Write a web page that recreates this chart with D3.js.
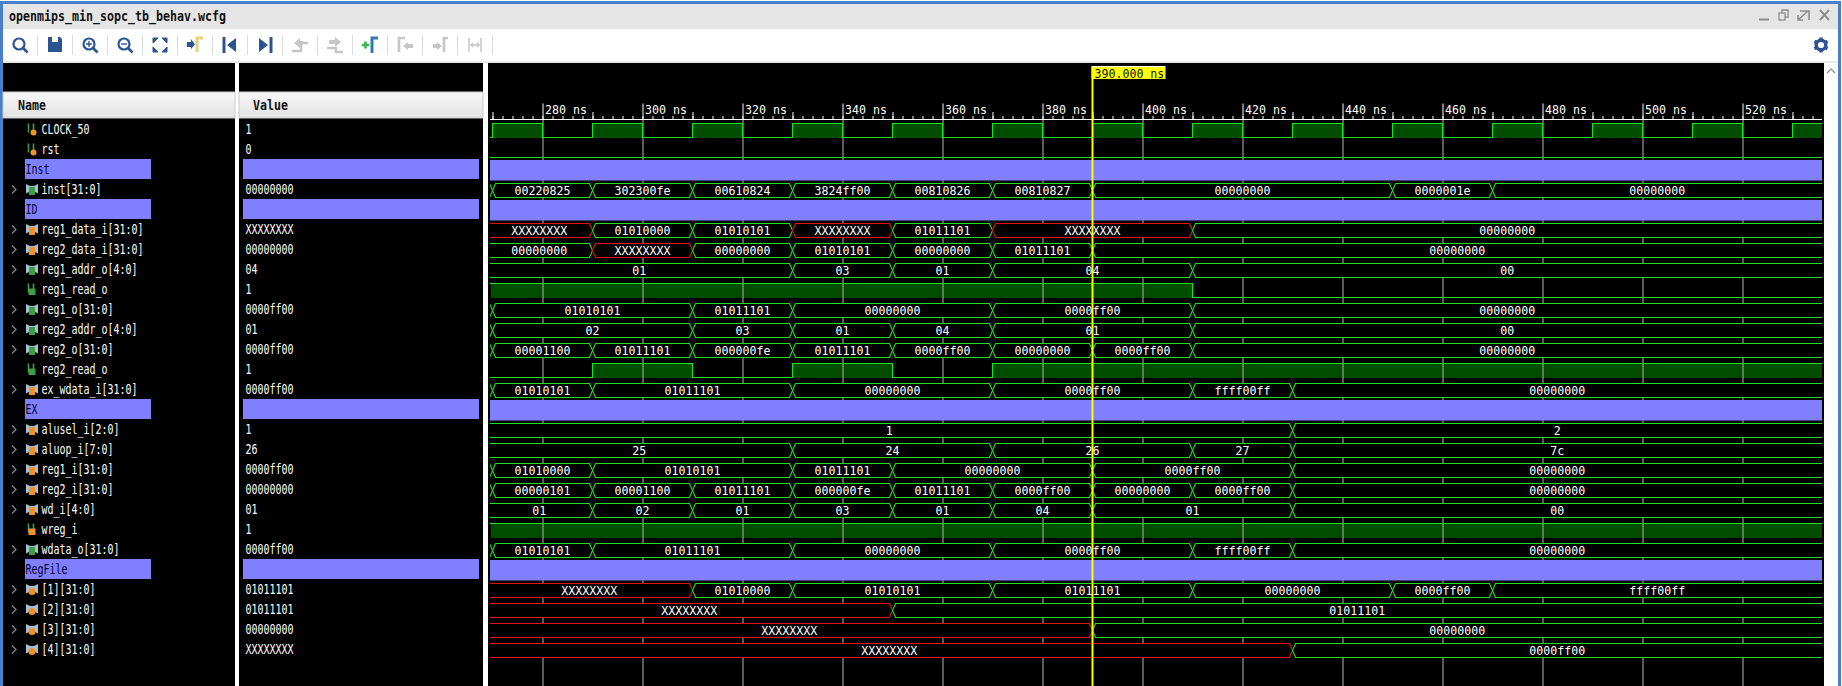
<![CDATA[<!DOCTYPE html>
<html><head><meta charset="utf-8">
<script src="https://cdn.jsdelivr.net/npm/d3@7/dist/d3.min.js"></script>
<style>
html,body{margin:0;padding:0;background:#fff;overflow:hidden}
svg{display:block}
text{font-family:"DejaVu Sans Mono",monospace;white-space:pre}
</style></head><body><svg id="c" width="1842" height="686"></svg>
<script>
// ---------- data ----------
const fileTitle = "openmips_min_sopc_tb_behav.wcfg";
const cursorTime = 390, cursorLabel = "390.000 ns";
const timeStart = 269.5, timeEnd = 535.9;
const majorTicks = [280,300,320,340,360,380,400,420,440,460,480,500,520];
const midTicks = [270,290,310,330,350,370,390,410,430,450,470,490,510,530];
const minorTicks = d3.range(270,536,2);

const rowNames = ["CLOCK_50","rst","Inst","inst[31:0]","ID","reg1_data_i[31:0]","reg2_data_i[31:0]","reg1_addr_o[4:0]","reg1_read_o","reg1_o[31:0]","reg2_addr_o[4:0]","reg2_o[31:0]","reg2_read_o","ex_wdata_i[31:0]","EX","alusel_i[2:0]","aluop_i[7:0]","reg1_i[31:0]","reg2_i[31:0]","wd_i[4:0]","wreg_i","wdata_o[31:0]","RegFile","[1][31:0]","[2][31:0]","[3][31:0]","[4][31:0]"];
const rowValues = ["1","0","","00000000","","XXXXXXXX","00000000","04","1","0000ff00","01","0000ff00","1","0000ff00","","1","26","0000ff00","00000000","01","1","0000ff00","","01011101","01011101","00000000","XXXXXXXX"];
const rowKinds = ["bit","bit","band","bus","band","bus","bus","bus","bit","bus","bus","bus","bit","bus","band","bus","bus","bus","bus","bus","bit","bus","band","bus","bus","bus","bus"];
const rowIcons = ["clk","clk","","out","","in","in","out","outbit","out","out","out","outbit","in","","in","in","in","in","in","inbit","out","","reg","reg","reg","reg"];

const X = "XXXXXXXX";
const clockT = [269.5,270,280,290,300,310,320,330,340,350,360,370,380,390,400,410,420,430,440,450,460,470,480,490,500,510,520,530];
const clockV = [0,1,0,1,0,1,0,1,0,1,0,1,0,1,0,1,0,1,0,1,0,1,0,1,0,1,0,1];
const rstT = [269.5]; const rstV = [0];
const instT = [270,290,310,330,350,370,390,450,470];
const instV = ["00220825","302300fe","00610824","3824ff00","00810826","00810827","00000000","0000001e","00000000"];
const reg1DataT = [269.5,290,310,330,350,370,410];
const reg1DataV = [X,"01010000","01010101",X,"01011101",X,"00000000"];
const reg2DataT = [269.5,290,310,330,350,370,390];
const reg2DataV = ["00000000",X,"00000000","01010101","00000000","01011101","00000000"];
const reg1AddrT = [269.5,330,350,370,410];
const reg1AddrV = ["01","03","01","04","00"];
const reg1ReadT = [269.5,410]; const reg1ReadV = [1,0];
const reg1OT = [270,310,330,370,410];
const reg1OV = ["01010101","01011101","00000000","0000ff00","00000000"];
const reg2AddrT = [270,310,330,350,370,410];
const reg2AddrV = ["02","03","01","04","01","00"];
const reg2OT = [270,290,310,330,350,370,390,410];
const reg2OV = ["00001100","01011101","000000fe","01011101","0000ff00","00000000","0000ff00","00000000"];
const reg2ReadT = [269.5,290,310,330,350,370]; const reg2ReadV = [0,1,0,1,0,1];
const exWdataT = [270,290,330,370,410,430];
const exWdataV = ["01010101","01011101","00000000","0000ff00","ffff00ff","00000000"];
const aluselT = [269.5,430]; const aluselV = ["1","2"];
const aluopT = [269.5,330,370,410,430]; const aluopV = ["25","24","26","27","7c"];
const reg1IT = [270,290,330,350,390,430];
const reg1IV = ["01010000","01010101","01011101","00000000","0000ff00","00000000"];
const reg2IT = [270,290,310,330,350,370,390,410,430];
const reg2IV = ["00000101","00001100","01011101","000000fe","01011101","0000ff00","00000000","0000ff00","00000000"];
const wdIT = [269.5,290,310,330,350,370,390,430];
const wdIV = ["01","02","01","03","01","04","01","00"];
const wregT = [269.5]; const wregV = [1];
const wdataOT = [270,290,330,370,410,430];
const wdataOV = ["01010101","01011101","00000000","0000ff00","ffff00ff","00000000"];
const r1T = [269.5,310,330,370,410,450,470];
const r1V = [X,"01010000","01010101","01011101","00000000","0000ff00","ffff00ff"];
const r2T = [269.5,350]; const r2V = [X,"01011101"];
const r3T = [269.5,390]; const r3V = [X,"00000000"];
const r4T = [269.5,430]; const r4V = [X,"0000ff00"];
const signalTimes = [clockT,rstT,null,instT,null,reg1DataT,reg2DataT,reg1AddrT,reg1ReadT,reg1OT,reg2AddrT,reg2OT,reg2ReadT,exWdataT,null,aluselT,aluopT,reg1IT,reg2IT,wdIT,wregT,wdataOT,null,r1T,r2T,r3T,r4T];
const signalVals = [clockV,rstV,null,instV,null,reg1DataV,reg2DataV,reg1AddrV,reg1ReadV,reg1OV,reg2AddrV,reg2OV,reg2ReadV,exWdataV,null,aluselV,aluopV,reg1IV,reg2IV,wdIV,wregV,wdataOV,null,r1V,r2V,r3V,r4V];

// ---------- style ----------
const GREEN="#1fdf1f", RED="#e01414", FILL="#004d00", BAND="#8080ff", NAVY="#2d5492", GREY="#c6c6c6";
const svg=d3.select("#c");
const x=d3.scaleLinear().domain([280,520]).range([542.5,1742.5]);
const rowY=d3.scaleLinear().domain([0,1]).range([119.5,139.5]);
const W0=x(timeStart), W1=x(timeEnd);
const defs=svg.append("defs");
const g=defs.append("linearGradient").attr("id","hdr").attr("x1",0).attr("x2",0).attr("y1",0).attr("y2",1);
g.append("stop").attr("offset",0).attr("stop-color","#f8f8f8");
g.append("stop").attr("offset",1).attr("stop-color","#e2e2e2");
defs.append("clipPath").attr("id","wave").append("rect").attr("x",W0).attr("y",60).attr("width",W1-W0).attr("height",626);

const R=(p,a,b,w,h,f)=>p.append("rect").attr("x",a).attr("y",b).attr("width",w).attr("height",h).attr("fill",f);
const T=(p,a,b,s,o={})=>{const t=p.append("text").attr("x",a).attr("y",b).text(s)
  .attr("font-size",o.size||13.7).attr("fill",o.fill||"#fff").attr("font-weight",o.weight||"normal");
  if(o.cw) t.attr("textLength",s.length*o.cw).attr("lengthAdjust","spacingAndGlyphs");
  if(o.anchor) t.attr("text-anchor",o.anchor);
  return t;};

// ---------- window chrome ----------
R(svg,0,0,1842,686,"#fff");
R(svg,0,1,1841,3,"#4a7ec9");
R(svg,0,1,3,685,"#4a7ec9");
R(svg,1838,1,3,685,"#4a7ec9");
R(svg,3,4,1835,25,"#e5e5e5");
R(svg,3,61,1835,2,"#e8e8e8");
T(svg,9,20.5,fileTitle,{size:13.7,weight:"bold",fill:"#111",cw:7});
// window buttons
const wb=svg.append("g").attr("stroke","#8e8e8e").attr("fill","none").attr("stroke-width",1.3);
wb.append("line").attr("x1",1759).attr("x2",1769).attr("y1",19.5).attr("y2",19.5).attr("stroke-width",2);
wb.append("rect").attr("x",1779).attr("y",13).attr("width",6).attr("height",7);
wb.append("path").attr("d","M1782,13V10H1788V17H1785");
wb.append("path").attr("d","M1800,11H1809V20M1798,20L1808,11M1798,15V20H1803").attr("stroke-width",1.6);
wb.append("path").attr("d","M1820,10L1829,20M1829,10L1820,20").attr("stroke-width",2);
// toolbar
const seps=[37.5,72.5,107.5,142.5,177.5,212.5,247.5,282.5,317.5,352.5,387.5,422.5,457.5,492.5];
svg.append("g").selectAll("line").data(seps).join("line").attr("x1",d=>d).attr("x2",d=>d).attr("y1",35).attr("y2",55).attr("stroke","#dcdcdc");
const tb=svg.append("g");
const ic=(cx,draw)=>draw(tb.append("g").attr("transform",`translate(${cx},45)`));
const lens=(g,sym)=>{g.append("circle").attr("cx",-1).attr("cy",-1).attr("r",5.5).attr("fill","none").attr("stroke",NAVY).attr("stroke-width",2.2);
  g.append("line").attr("x1",3).attr("y1",3).attr("x2",7.5).attr("y2",7.5).attr("stroke",NAVY).attr("stroke-width",2.6);
  if(sym) g.append("path").attr("d",sym).attr("stroke",NAVY).attr("stroke-width",1.4).attr("fill","none");};
ic(20,g=>lens(g));
ic(55,g=>g.append("path").attr("d","M-7,-8H5L7,-6V7H-7ZM-3,-8V-3H3V-8Z").attr("fill",NAVY).attr("fill-rule","evenodd"));
ic(90,g=>lens(g,"M-4,-1H2M-1,-4V2"));
ic(125,g=>lens(g,"M-4,-1H2"));
ic(160,g=>g.append("path").attr("d","M-7,-7H-2L-7,-2ZM7,-7H2L7,-2ZM-7,7H-2L-7,2ZM7,7H2L7,2Z").attr("fill",NAVY).attr("stroke",NAVY));
ic(195,g=>{g.append("path").attr("d","M-8,-3H-4V-6L0,-0.5L-4,4V2H-8Z").attr("fill",NAVY);g.append("path").attr("d","M2,7V-7H8").attr("fill","none").attr("stroke","#e6d47c").attr("stroke-width",3);});
ic(230,g=>{g.append("path").attr("d","M-6,-8V8").attr("stroke",NAVY).attr("stroke-width",3);g.append("path").attr("d","M6,-7V7L-3,0Z").attr("fill",NAVY);});
ic(265,g=>{g.append("path").attr("d","M6,-8V8").attr("stroke",NAVY).attr("stroke-width",3);g.append("path").attr("d","M-6,-7V7L3,0Z").attr("fill",NAVY);});
ic(300,g=>{g.append("path").attr("d","M-8,6H1V-2H8").attr("fill","none").attr("stroke",GREY).attr("stroke-width",2.5);g.append("path").attr("d","M-6,-2L0,-7V-4H3V0H0V3Z").attr("fill",GREY);});
ic(335,g=>{g.append("path").attr("d","M-8,3H1V7H8").attr("fill","none").attr("stroke",GREY).attr("stroke-width",2.5);g.append("path").attr("d","M6,-3L0,-8V-5H-6V-1H0V2Z").attr("fill",GREY);});
ic(370,g=>{g.append("path").attr("d","M-8,0H-1M-4.5,-3.5V3.5").attr("stroke","#3db54a").attr("stroke-width",2.6);g.append("path").attr("d","M2,8V-7H8").attr("fill","none").attr("stroke","#2f7ab5").attr("stroke-width",3);});
ic(405,g=>{g.append("path").attr("d","M-6,7V-7H0").attr("fill","none").attr("stroke",GREY).attr("stroke-width",2.6);g.append("path").attr("d","M-2,1L3,-3V-1H8V3H3V5Z").attr("fill",GREY);});
ic(440,g=>{g.append("path").attr("d","M-7,-1H-3V-3L2,1L-3,5V3H-7Z").attr("fill",GREY);g.append("path").attr("d","M4,7V-7H8").attr("fill","none").attr("stroke",GREY).attr("stroke-width",2.6);});
ic(475,g=>g.append("path").attr("d","M-6,-7V7M6,-7V7M-4,0H4M-2,-2L-4,0L-2,2M2,-2L4,0L2,2").attr("fill","none").attr("stroke",GREY).attr("stroke-width",1.5));
// gear
const gear=svg.append("g").attr("transform","translate(1821,45)");
gear.append("circle").attr("r",4.8).attr("fill","none").attr("stroke",NAVY).attr("stroke-width",3.4);
gear.selectAll("rect").data(d3.range(0,360,60)).join("rect").attr("x",-1.7).attr("y",-7.5).attr("width",3.4).attr("height",3.4).attr("fill",NAVY).attr("transform",d=>`rotate(${d})`);
// scrollbar arrow
svg.append("path").attr("d","M1827,73L1831,69L1835,73").attr("fill","none").attr("stroke","#888").attr("stroke-width",1.2);

// ---------- panels ----------
R(svg,3,63,232,623,"#000");
R(svg,239,63,244,623,"#000");
R(svg,488,63,1336,623,"#000");
[[3,232,"Name",18],[239,244,"Value",253]].forEach(([a,w,s,tx])=>{
  R(svg,a,92,w,26,"url(#hdr)").attr("stroke","#c8c8c8").attr("stroke-width",1);
  T(svg,tx,110,s,{weight:"bold",fill:"#111",cw:7});
});

// ---------- name / value columns ----------
const iconLayer=svg.append("g");
function icon(i,kind){
  const cy=rowY(i)+10, g=iconLayer.append("g").attr("transform",`translate(32,${cy})`);
  const bus=kind==="in"||kind==="out"||kind==="reg";
  const col=(kind==="in"||kind==="inbit")?"#f0922b":(kind==="out"||kind==="outbit")?"#3f9e45":"#f0922b";
  if(bus){
    g.append("path").attr("d","M-6,-5.5L-2,-3.5H2L6,-5.5V4L2,2H-2L-6,4Z").attr("fill","#a5bfd4");
    if(kind==="reg") g.append("circle").attr("cy",2).attr("r",3.6).attr("fill",col);
    else g.append("rect").attr("x",-3).attr("y",-2.5).attr("width",6).attr("height",8).attr("fill",col);
  } else {
    g.append("path").attr("d","M-3.5,3V-6M1.5,3V-6").attr("stroke","#3f9e45").attr("stroke-width",1.6).attr("fill","none");
    if(kind==="clk") g.append("circle").attr("cx",1.5).attr("cy",3).attr("r",3).attr("fill","#f0922b");
    else g.append("rect").attr("x",-3.5).attr("y",-1).attr("width",7).attr("height",6.5).attr("fill",col);
  }
}
rowNames.forEach((n,i)=>{
  const y=rowY(i), kind=rowKinds[i];
  if(kind==="band"){
    R(svg,25,y-.5,126,20,BAND);
    R(svg,243,y-.5,236,20,BAND);
    T(svg,25.5,y+14.7,n,{fill:"#000030",cw:6});
  } else {
    T(svg,41.5,y+14.7,n,{cw:6});
    T(svg,245.5,y+14.7,rowValues[i],{cw:6});
    icon(i,rowIcons[i]);
    if(kind==="bus") svg.append("path").attr("d",`M12,${y+6}L16,${y+10}L12,${y+14}`).attr("fill","none").attr("stroke","#8a8a8a").attr("stroke-width",1.2);
  }
});

// ---------- waveforms ----------
const wave=svg.append("g").attr("clip-path","url(#wave)");
const fillL=wave.append("g"), gridL=wave.append("g"), busL=wave.append("g"), lineL=wave.append("g");
const segs=(T_,V_)=>T_.map((t,k)=>({t0:t,t1:k<T_.length-1?T_[k+1]:timeEnd,v:V_[k],first:k===0&&t===timeStart,start:k===0,last:k===T_.length-1}));

// grid via axis
gridL.append("g").attr("transform","translate(0,119.5)")
  .call(d3.axisBottom(x).tickValues(majorTicks).tickSize(567).tickFormat(""))
  .call(a=>a.select(".domain").remove())
  .call(a=>a.selectAll("text").remove())
  .call(a=>a.selectAll("line").attr("stroke","#b4b4b4"));

const line=d3.line();
rowNames.forEach((n,i)=>{
  const y=rowY(i), kind=rowKinds[i];
  const top=y+4, bot=y+18;
  if(kind==="band"){ R(busL,W0,y+.5,W1-W0,20.5,BAND); return; }
  const s=segs(signalTimes[i],signalVals[i]);
  if(kind==="bit"){
    s.filter(d=>d.v===1).forEach(d=>R(fillL,x(d.t0)+(d.first?1:0),top,x(d.t1)-x(d.t0),bot-top+.5,FILL));
    const yb=d3.scaleLinear().domain([0,1]).range([bot,top]);
    const pts=[...s.map(d=>[d.t0,d.v]),[timeEnd,s[s.length-1].v]];
    lineL.append("path").attr("d",d3.line().x(d=>x(d[0])).y(d=>yb(d[1])).curve(d3.curveStepAfter)(pts))
      .attr("fill","none").attr("stroke",GREEN).attr("stroke-width",1.1);
  } else {
    s.forEach(d=>{
      const a=x(d.t0), b=x(d.t1), m=y+11, c=d.v===X?RED:GREEN;
      const L=d.first?[[a,top],[a,bot]]:[[a+3,top],[a,m],[a+3,bot]];
      const Rr=d.last?[[b,bot],[b,top]]:[[b-3,bot],[b,m],[b-3,top]];
      // stub arms of the crossing that opens the visible window
      if(d.start&&!d.first) busL.append("path").attr("fill","none").attr("stroke",GREEN).attr("stroke-width",1.1)
        .attr("d",line([[a-3,top],[a,m],[a-3,bot]]));
      busL.append("path").attr("fill","#000").attr("stroke","none").attr("d",line([...L,...Rr])+"Z");
      const open=d.first ? [L[1],...Rr,L[0]] : d.last ? [[b,bot],...L.slice().reverse(),[b,top]] : [...L,...Rr,L[0]];
      busL.append("path").attr("fill","none").attr("stroke",c).attr("stroke-width",1.1).attr("d",line(open));
      T(busL,(a+b)/2-(d.first?2:0),y+15.3,d.v,{size:11.6,anchor:"middle"});
    });
  }
});

// ---------- time axis ----------
const axisY=119.5;
const ax=svg.append("g").attr("transform",`translate(0,${axisY})`);
const styleAxis=a=>{a.select(".domain").remove();a.selectAll("line").attr("stroke","#fff");};
ax.append("g").call(d3.axisTop(x).tickValues(minorTicks).tickSize(3.5).tickFormat("")).call(styleAxis).call(a=>a.selectAll("text").remove());
ax.append("g").call(d3.axisTop(x).tickValues(midTicks).tickSize(7.5).tickFormat("")).call(styleAxis).call(a=>a.selectAll("text").remove());
ax.append("g").call(d3.axisTop(x).tickValues(majorTicks).tickSize(16).tickFormat(d=>d+" ns")).call(styleAxis)
  .call(a=>a.selectAll("text").attr("x",2).attr("y",-6).attr("dy",0).attr("text-anchor","start")
     .attr("fill","#fff").attr("font-size",11.6).attr("font-family",'"DejaVu Sans Mono",monospace'));
ax.append("line").attr("x1",W0).attr("x2",W1).attr("y1",0).attr("y2",0).attr("stroke","#fff");

// ---------- cursor ----------
const cx=x(cursorTime);
R(svg,cx-1,67,2,619,"#ffff00");
R(svg,cx-1,67,74,12,"#ffff00");
svg.append("line").attr("x1",cx-1).attr("x2",cx+73).attr("y1",66.5).attr("y2",66.5).attr("stroke","#fff");
T(svg,cx+2,77.5,cursorLabel,{size:11.6,fill:"#111"});
</script></body></html>]]>
